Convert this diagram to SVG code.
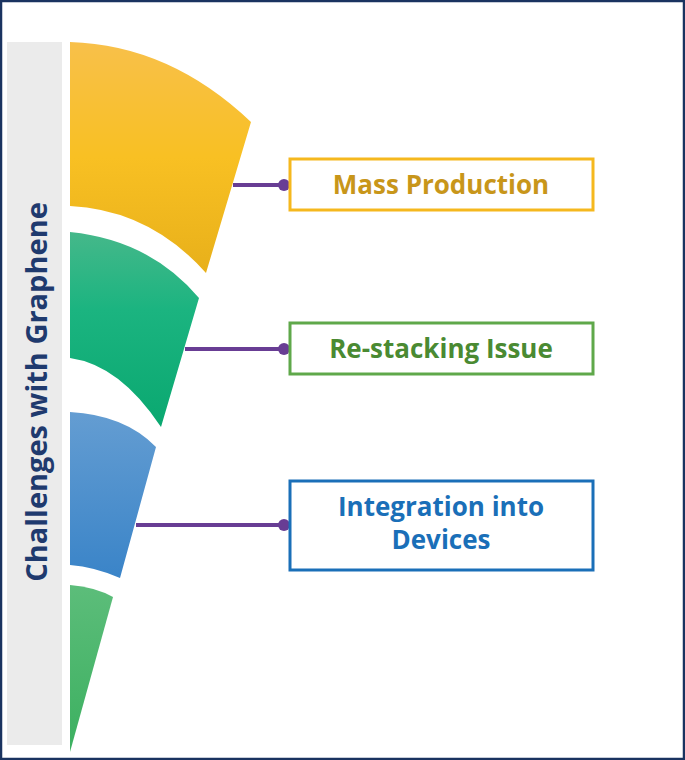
<svg xmlns="http://www.w3.org/2000/svg" width="685" height="760" viewBox="0 0 685 760">
<defs>
<linearGradient id="gy" x1="0" y1="0" x2="0" y2="1"><stop offset="0" stop-color="#f8c04a"/><stop offset="0.5" stop-color="#f8c023"/><stop offset="1" stop-color="#e8b01a"/></linearGradient>
<linearGradient id="gg" x1="0" y1="0" x2="0" y2="1"><stop offset="0" stop-color="#45b88a"/><stop offset="0.4" stop-color="#1bb480"/><stop offset="1" stop-color="#0aa870"/></linearGradient>
<linearGradient id="gb" x1="0" y1="0" x2="0" y2="1"><stop offset="0" stop-color="#649dd2"/><stop offset="1" stop-color="#3a84c8"/></linearGradient>
<linearGradient id="gl" x1="0" y1="0" x2="0" y2="1"><stop offset="0" stop-color="#5cbd7a"/><stop offset="1" stop-color="#3cb060"/></linearGradient>
</defs>
<style>
.box{fill:#fff;stroke-width:3}
.lbl{font-family:"Open Sans","Liberation Sans",sans-serif;font-weight:bold;font-size:26px;text-anchor:middle}
.con{stroke:#683d94;stroke-width:4}
.dot{fill:#683d94}
</style>
<rect x="1" y="1" width="683" height="758" fill="#fff" stroke="#1a3360" stroke-width="2.5"/>
<rect x="7" y="42" width="55" height="703" fill="#ebebeb"/>
<text transform="translate(47,392) rotate(-90)" font-family="Open Sans, Liberation Sans, sans-serif" font-weight="bold" font-size="29" fill="#1f3a6e" text-anchor="middle">Challenges with Graphene</text>
<g id="seg1"><path d="M70,42 Q170,45 251,122 L206,273 Q150,210 70,206 Z" fill="url(#gy)"/></g>
<g id="seg2"><path d="M70,232 Q150,240 199,298 L161,427 Q120,365 70,358 Z" fill="url(#gg)"/></g>
<g id="seg3"><path d="M70,412 Q125,415 156,447 L120,578 Q95,567 70,565 Z" fill="url(#gb)"/></g>
<g id="seg4"><path d="M70,585 Q95,587 113,597 L70,752 Z" fill="url(#gl)"/></g>
<g id="connectors">
<line class="con" x1="233" y1="185" x2="284" y2="185"/><circle class="dot" cx="284" cy="185" r="6"/>
<line class="con" x1="185" y1="349" x2="284" y2="349"/><circle class="dot" cx="284" cy="349" r="6"/>
<line class="con" x1="136" y1="525" x2="284" y2="525"/><circle class="dot" cx="284" cy="525" r="6"/>
</g>
<g id="n1"><rect class="box" x="290" y="159" width="303" height="51" stroke="#f5b81e"/><text class="lbl" x="441" y="194" fill="#c8961a">Mass Production</text></g>
<g id="n2"><rect class="box" x="290" y="323" width="303" height="51" stroke="#5fa84a"/><text class="lbl" x="441" y="358" fill="#4a8a32">Re-stacking Issue</text></g>
<g id="n3"><rect class="box" x="290" y="481" width="303" height="89" stroke="#1a6fb8"/><text class="lbl" x="441" y="516" fill="#1a6fb8">Integration into</text><text class="lbl" x="441" y="549" fill="#1a6fb8">Devices</text></g>
</svg>
